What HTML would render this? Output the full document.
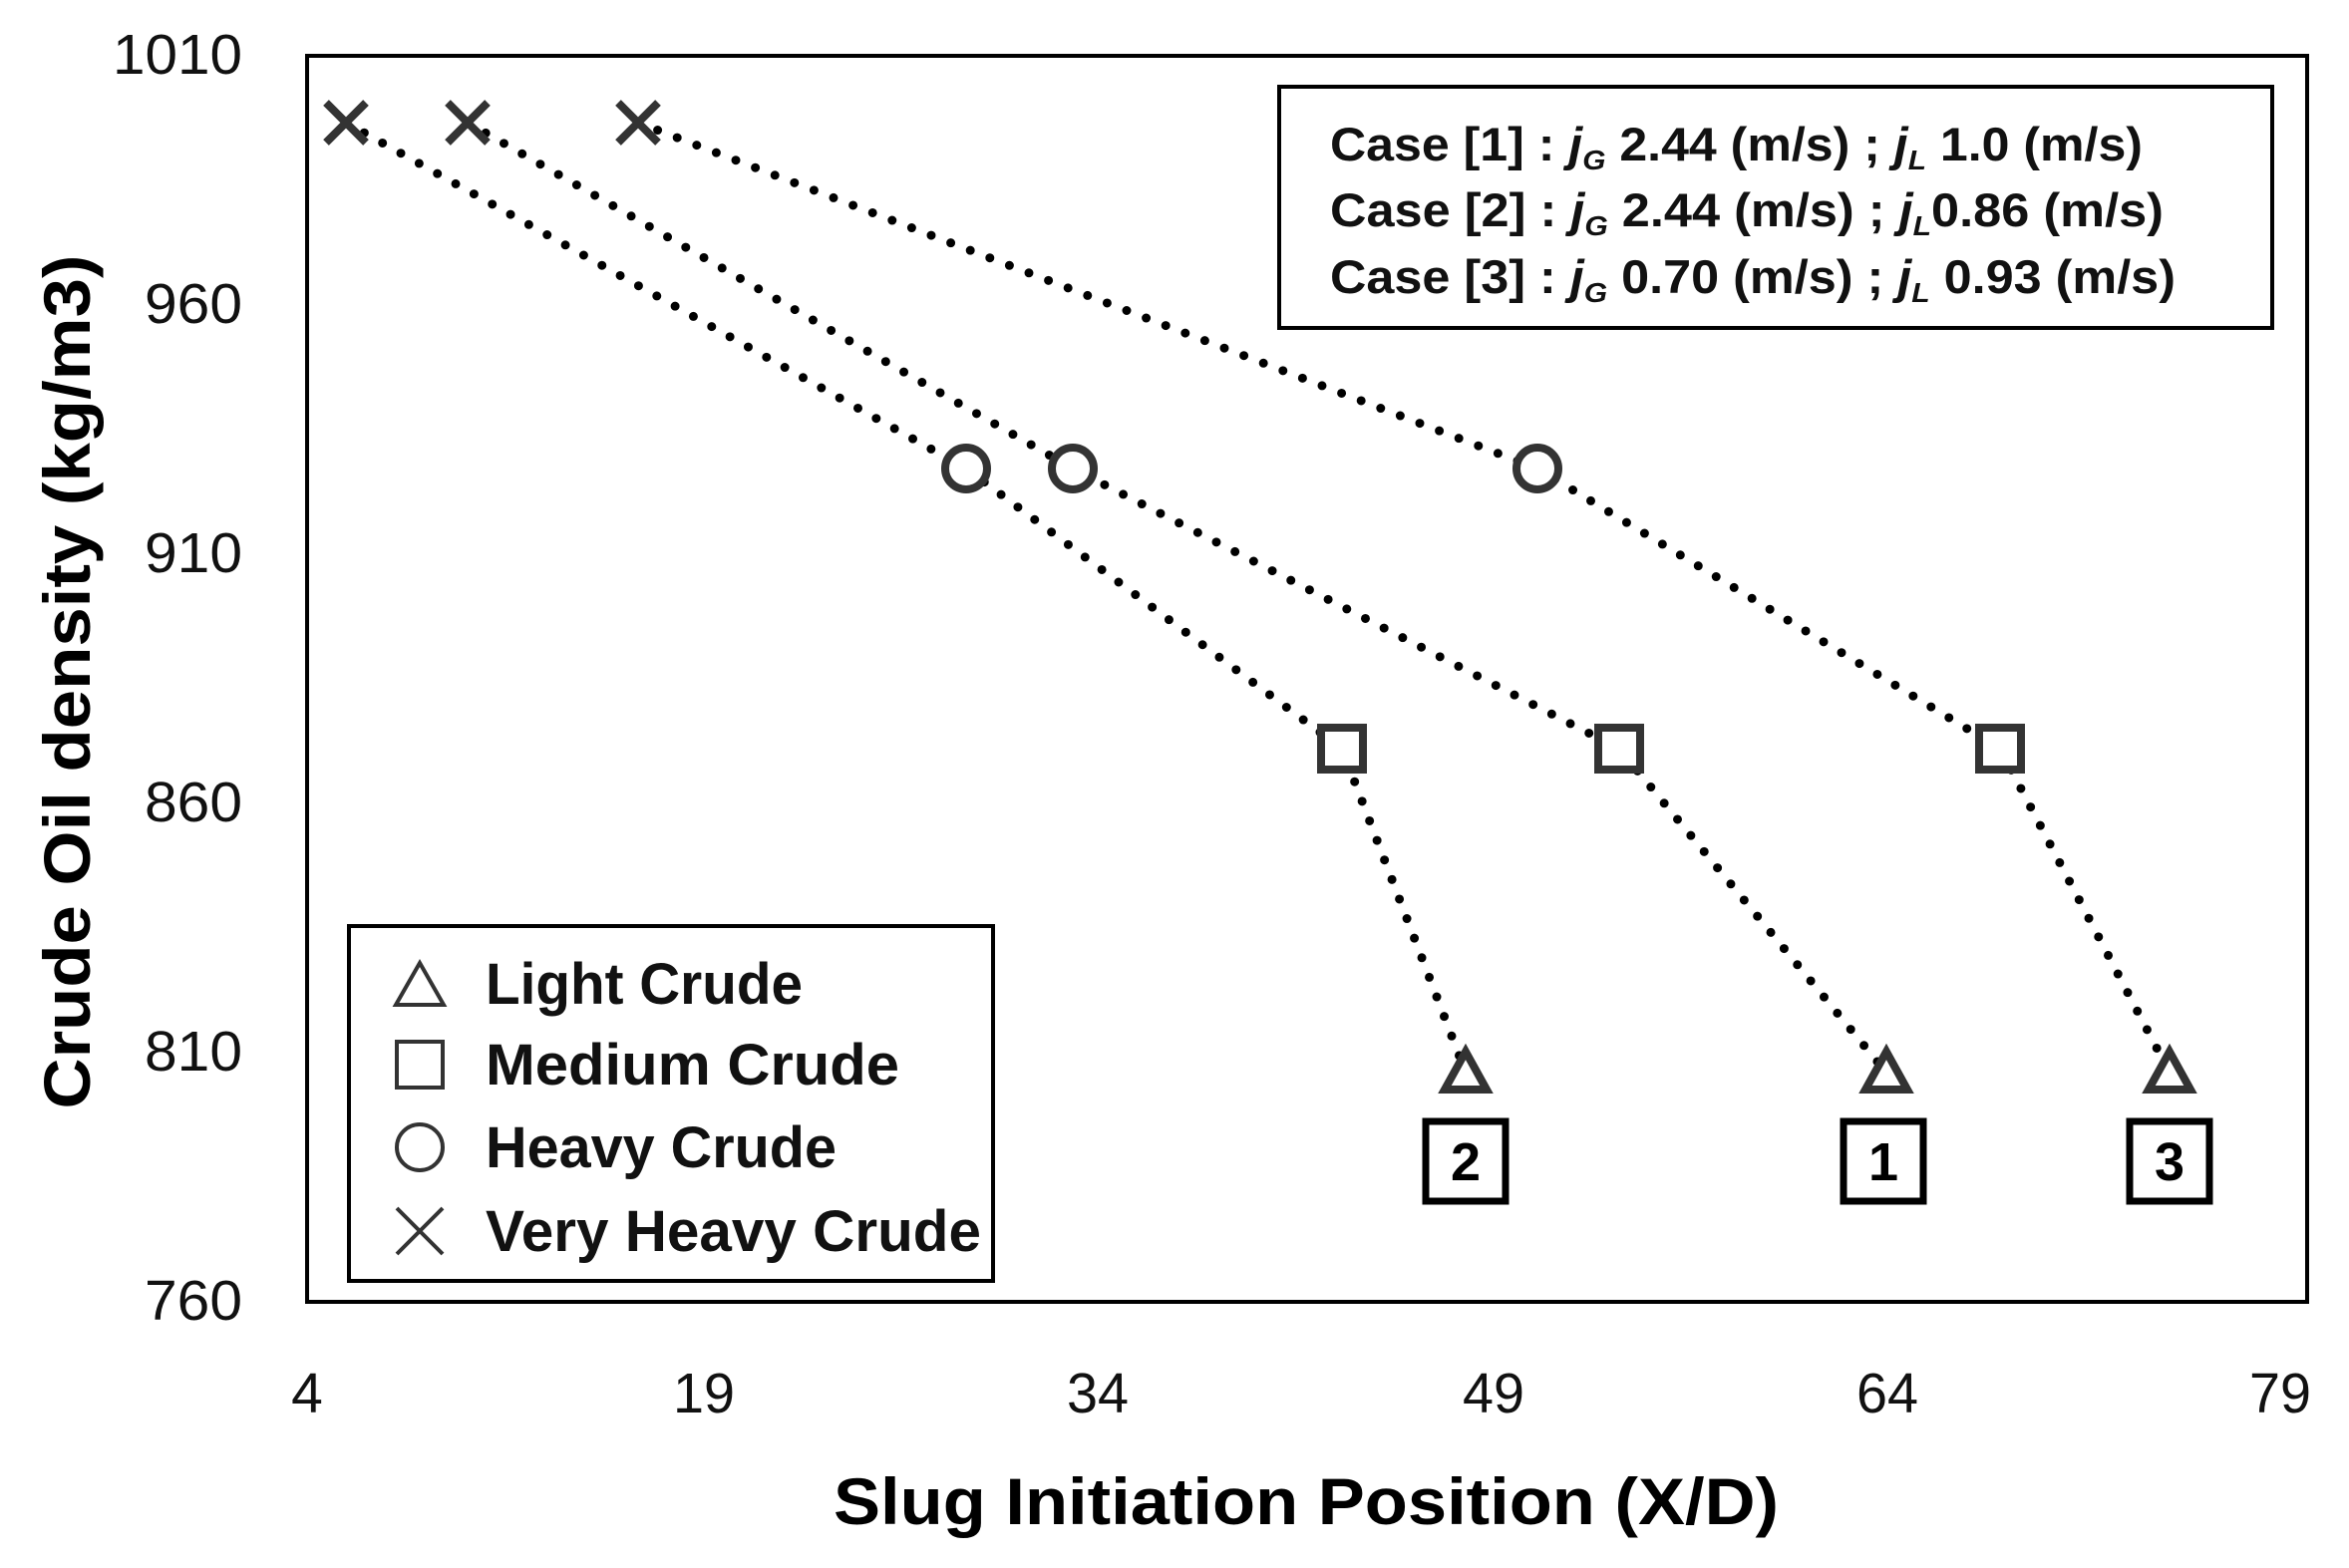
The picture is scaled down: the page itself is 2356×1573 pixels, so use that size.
<!DOCTYPE html>
<html><head><meta charset="utf-8"><style>html,body{margin:0;padding:0;background:#fff}</style></head>
<body>
<svg width="2356" height="1568" viewBox="0 0 2356 1568" xmlns="http://www.w3.org/2000/svg" font-family="Liberation Sans, sans-serif">
<rect width="2356" height="1568" fill="#fff"/>
<rect x="308" y="56" width="2006" height="1250" fill="none" stroke="#000" stroke-width="4"/>
<g font-size="57" fill="#111" text-anchor="end" lengthAdjust="spacingAndGlyphs">
<text x="243" y="74" textLength="130" lengthAdjust="spacingAndGlyphs">1010</text><text x="243" y="324" textLength="98" lengthAdjust="spacingAndGlyphs">960</text><text x="243" y="574" textLength="98" lengthAdjust="spacingAndGlyphs">910</text>
<text x="243" y="824" textLength="98" lengthAdjust="spacingAndGlyphs">860</text><text x="243" y="1074" textLength="98" lengthAdjust="spacingAndGlyphs">810</text><text x="243" y="1324" textLength="98" lengthAdjust="spacingAndGlyphs">760</text>
</g>
<g font-size="57" fill="#111" text-anchor="middle">
<text x="308" y="1417">4</text><text x="706" y="1417" textLength="62" lengthAdjust="spacingAndGlyphs">19</text><text x="1101" y="1417" textLength="62" lengthAdjust="spacingAndGlyphs">34</text>
<text x="1498" y="1417" textLength="62" lengthAdjust="spacingAndGlyphs">49</text><text x="1893" y="1417" textLength="62" lengthAdjust="spacingAndGlyphs">64</text><text x="2287" y="1417" textLength="62" lengthAdjust="spacingAndGlyphs">79</text>
</g>
<text x="1310" y="1529" font-size="66" font-weight="bold" text-anchor="middle" textLength="948" lengthAdjust="spacingAndGlyphs">Slug Initiation Position (X/D)</text>
<text transform="translate(90,684) rotate(-90)" font-size="66" font-weight="bold" text-anchor="middle" textLength="857" lengthAdjust="spacingAndGlyphs">Crude Oil density (kg/m3)</text>
<g fill="none" stroke="#000" stroke-width="9" stroke-linecap="round" stroke-dasharray="0 21">
<polyline points="347,123 969,470 1346,751 1470,1076"/>
<polyline points="469,123 1076,470 1624,751 1892,1076"/>
<polyline points="640,123 1542,470 2006,751 2176,1076"/>
</g>
<g stroke="#333" stroke-width="8" fill="#fff">
<g fill="none"><path d="M327,103 l40,40 M367,103 l-40,40"/><path d="M449,103 l40,40 M489,103 l-40,40"/><path d="M620,103 l40,40 M660,103 l-40,40"/></g>
<circle cx="969" cy="470" r="21"/><circle cx="1076" cy="470" r="21"/><circle cx="1542" cy="470" r="21"/>
<rect x="1325" y="730" width="42" height="42"/><rect x="1603" y="730" width="42" height="42"/><rect x="1985" y="730" width="42" height="42"/>
<path d="M1470,1055 l21,38 h-42z"/><path d="M1892,1055 l21,38 h-42z"/><path d="M2176,1055 l21,38 h-42z"/>
</g>
<g stroke="#000" stroke-width="7" fill="#fff">
<rect x="1430" y="1125" width="80" height="80"/><rect x="1849" y="1125" width="80" height="80"/><rect x="2136" y="1125" width="80" height="80"/>
</g>
<g font-size="54" font-weight="bold" text-anchor="middle">
<text x="1470" y="1184">2</text><text x="1889" y="1184">1</text><text x="2176" y="1184">3</text>
</g>
<rect x="1283" y="87" width="996" height="242" fill="#fff" stroke="#000" stroke-width="4"/>
<g font-size="47" font-weight="bold" fill="#111">
<text x="1334" y="161" textLength="815" lengthAdjust="spacingAndGlyphs">Case [1] : <tspan font-style="italic">j</tspan><tspan font-style="italic" font-size="28" dy="9">G</tspan><tspan dy="-9"> 2.44 (m/s) ; </tspan><tspan font-style="italic">j</tspan><tspan font-style="italic" font-size="28" dy="9">L</tspan><tspan dy="-9"> 1.0 (m/s)</tspan></text>
<text x="1334" y="227" textLength="836" lengthAdjust="spacingAndGlyphs">Case [2] : <tspan font-style="italic">j</tspan><tspan font-style="italic" font-size="28" dy="9">G</tspan><tspan dy="-9"> 2.44 (m/s) ; </tspan><tspan font-style="italic">j</tspan><tspan font-style="italic" font-size="28" dy="9">L</tspan><tspan dy="-9">0.86 (m/s)</tspan></text>
<text x="1334" y="294" textLength="848" lengthAdjust="spacingAndGlyphs">Case [3] : <tspan font-style="italic">j</tspan><tspan font-style="italic" font-size="28" dy="9">G</tspan><tspan dy="-9"> 0.70 (m/s) ; </tspan><tspan font-style="italic">j</tspan><tspan font-style="italic" font-size="28" dy="9">L</tspan><tspan dy="-9"> 0.93 (m/s)</tspan></text>
</g>
<rect x="350" y="929" width="646" height="356" fill="#fff" stroke="#000" stroke-width="4"/>
<g stroke="#333" stroke-width="4" fill="none">
<path d="M421,966 l24,42 h-48z"/>
<rect x="398" y="1045" width="46" height="46"/>
<circle cx="421" cy="1151" r="23"/>
<path d="M398,1212 l46,46 M444,1212 l-46,46"/>
</g>
<g font-size="58" font-weight="bold" fill="#111">
<text x="487" y="1007" textLength="318" lengthAdjust="spacingAndGlyphs">Light Crude</text>
<text x="487" y="1088" textLength="415" lengthAdjust="spacingAndGlyphs">Medium Crude</text>
<text x="487" y="1171" textLength="352" lengthAdjust="spacingAndGlyphs">Heavy Crude</text>
<text x="487" y="1255" textLength="497" lengthAdjust="spacingAndGlyphs">Very Heavy Crude</text>
</g>
</svg>
</body></html>
